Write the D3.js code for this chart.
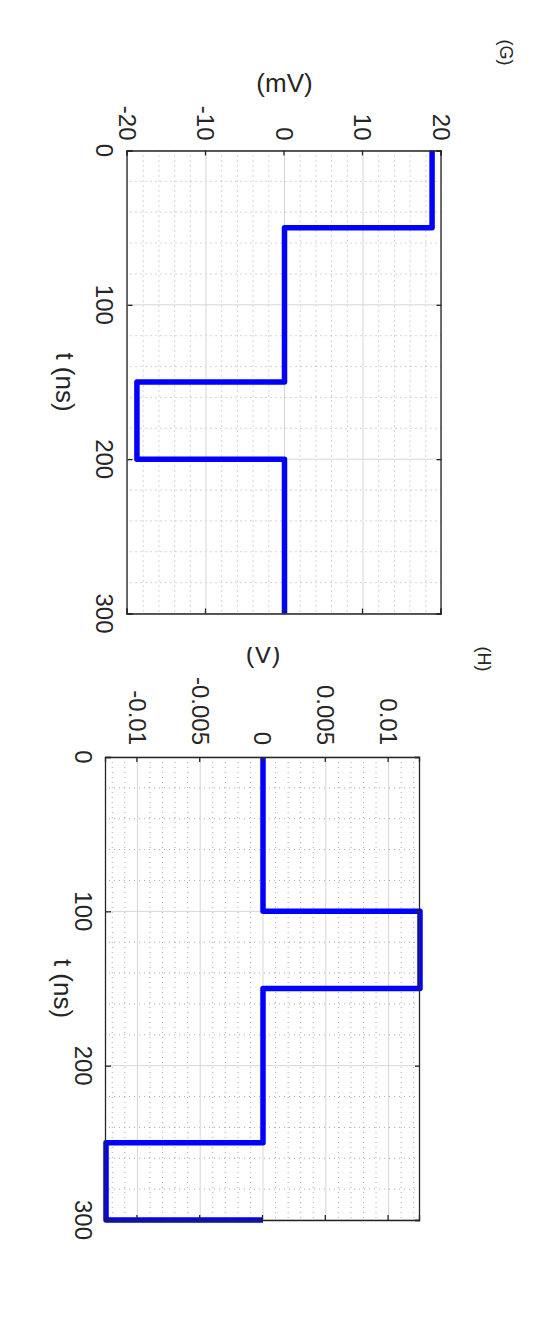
<!DOCTYPE html>
<html>
<head>
<meta charset="utf-8">
<script src="https://cdn.jsdelivr.net/npm/d3@7"></script>
<style>
html,body{margin:0;padding:0;background:#fff;}
svg{display:block;}
text{font-family:"Liberation Sans",Arial,Helvetica,sans-serif;fill:#262626;}
</style>
</head>
<body>
<script>
// ---- data ----
const timeTicks = [0, 100, 200, 300];
const gTime  = [0, 50, 50, 150, 150, 200, 200, 300];
const gValue = [18.8, 18.8, 0, 0, -18.8, -18.8, 0, 0];
const gValueTicks = [-20, -10, 0, 10, 20];
const hTime  = [0, 100, 100, 150, 150, 250, 250, 300, 300];
const hValue = [0, 0, 0.0125, 0.0125, 0, 0, -0.0125, -0.0125, 0];
const hValueTicks = [-0.01, -0.005, 0, 0.005, 0.01];
const gTitle = "(G)", hTitle = "(H)";
const gUnit = "(mV)", hUnit = "(V)";
const timeLabel = "t (ns)";

const svg = d3.select("body").append("svg").attr("width", 544).attr("height", 1339);
svg.append("rect").attr("width", 544).attr("height", 1339).attr("fill", "#fff");

function panel(cfg) {
  const len = cfg.bottom - cfg.top;      // time axis length (page vertical)
  const span = cfg.right - cfg.left;     // value axis length (page horizontal)
  const x = d3.scaleLinear().domain([0, 300]).range([0, len]);
  const y = d3.scaleLinear().domain(cfg.domain).range([span, 0]);
  const g = svg.append("g").attr("transform", `translate(${cfg.right},${cfg.top}) rotate(90)`);

  const tMinor = d3.range(0, 301, 20).filter(v => v % 100 !== 0);
  const vMinor = d3.range(Math.round(cfg.domain[0] / cfg.minorStep), Math.round(cfg.domain[1] / cfg.minorStep) + 1)
    .map(i => +(i * cfg.minorStep).toFixed(6))
    .filter(v => !cfg.ticks.some(t => Math.abs(t - v) < 1e-9) && v > cfg.domain[0] && v < cfg.domain[1]);

  // minor grid
  g.append("g").selectAll("line").data(tMinor).join("line")
    .attr("x1", d => x(d)).attr("x2", d => x(d)).attr("y1", 0).attr("y2", span)
    .attr("stroke", "#aaaaaa").attr("stroke-width", 1).attr("stroke-dasharray", "1,4");
  g.append("g").selectAll("line").data(vMinor).join("line")
    .attr("y1", d => y(d)).attr("y2", d => y(d)).attr("x1", 0).attr("x2", len)
    .attr("stroke", "#aaaaaa").attr("stroke-width", 1).attr("stroke-dasharray", "1,4");
  // major grid
  g.append("g").selectAll("line").data(timeTicks).join("line")
    .attr("x1", d => x(d)).attr("x2", d => x(d)).attr("y1", 0).attr("y2", span)
    .attr("stroke", "#d6d6d6").attr("stroke-width", 1);
  g.append("g").selectAll("line").data(cfg.ticks).join("line")
    .attr("y1", d => y(d)).attr("y2", d => y(d)).attr("x1", 0).attr("x2", len)
    .attr("stroke", "#d6d6d6").attr("stroke-width", 1);

  // data line
  const pts = cfg.t.map((t, i) => [t, cfg.v[i]]);
  g.append("path").datum(pts)
    .attr("d", d3.line().x(d => x(d[0])).y(d => y(d[1])))
    .attr("fill", "none").attr("stroke", "#0000ff").attr("stroke-width", 5.5)
    .attr("stroke-linejoin", "round").attr("stroke-linecap", "butt");

  // axes (ticks inside, box)
  const tl = 5;
  const axB = d3.axisBottom(x).tickValues(timeTicks).tickSize(-tl).tickFormat("");
  const axT = d3.axisTop(x).tickValues(timeTicks).tickSize(-tl).tickFormat("");
  const axL = d3.axisLeft(y).tickValues(cfg.ticks).tickSize(-tl).tickFormat("");
  const axR = d3.axisRight(y).tickValues(cfg.ticks).tickSize(-tl).tickFormat("");
  [[axB, `translate(0,${span})`], [axT, "translate(0,0)"], [axL, "translate(0,0)"], [axR, `translate(${len},0)`]]
    .forEach(([ax, tr]) => {
      const a = g.append("g").attr("transform", tr).call(ax);
      a.selectAll("path").attr("stroke", "#262626").attr("stroke-width", 1.3);
      a.selectAll("line").attr("stroke", "#262626").attr("stroke-width", 1.3);
    });

  // tick labels
  g.append("g").selectAll("text").data(timeTicks).join("text")
    .attr("x", d => x(d)).attr("y", span + 14).attr("dy", "0.72em")
    .attr("text-anchor", "middle").attr("font-size", 24).text(d => d);
  g.append("g").selectAll("text").data(cfg.ticks).join("text")
    .attr("x", -cfg.vGap).attr("y", d => y(d)).attr("dy", "0.36em")
    .attr("text-anchor", "end").attr("font-size", 24).text(d => String(d));

  // x label (time)
  g.append("text").attr("x", len / 2).attr("y", cfg.xlabY)
    .attr("text-anchor", "middle").attr("font-size", 26).text(timeLabel);
  // y label (unit), optionally clipped at its top edge
  const wrap = g.append("g");
  if (cfg.clipUnit) {
    const id = "clip" + cfg.title.replace(/\W/g, "");
    g.append("clipPath").attr("id", id).append("rect")
      .attr("x", cfg.clipFrom).attr("y", 0).attr("width", 200).attr("height", span);
    wrap.attr("clip-path", `url(#${id})`);
  }
  wrap.append("text")
    .attr("transform", `translate(${-cfg.ylabD},${span / 2}) rotate(-90)`)
    .attr("text-anchor", "middle").attr("font-size", 26).text(cfg.unit);
  // title
  g.append("text").attr("x", -98).attr("y", cfg.titleY)
    .attr("text-anchor", "middle").attr("font-size", 18).attr("fill", "#000").text(cfg.title);
}

panel({
  top: 150.5, bottom: 613.5, left: 127.5, right: 441.5,
  domain: [-20, 20], ticks: gValueTicks, minorStep: 2,
  t: gTime, v: gValue, vGap: 10, xlabY: 386, ylabD: 59, unit: gUnit,
  title: gTitle, titleY: -58.5, clipUnit: false
});
panel({
  top: 757, bottom: 1220, left: 106, right: 420,
  domain: [-0.0125, 0.0125], ticks: hValueTicks, minorStep: 0.001,
  t: hTime, v: hValue, vGap: 12, xlabY: 366, ylabD: 94, unit: hUnit,
  title: hTitle, titleY: -58, clipUnit: true, clipFrom: -110
});
</script>
</body>
</html>
